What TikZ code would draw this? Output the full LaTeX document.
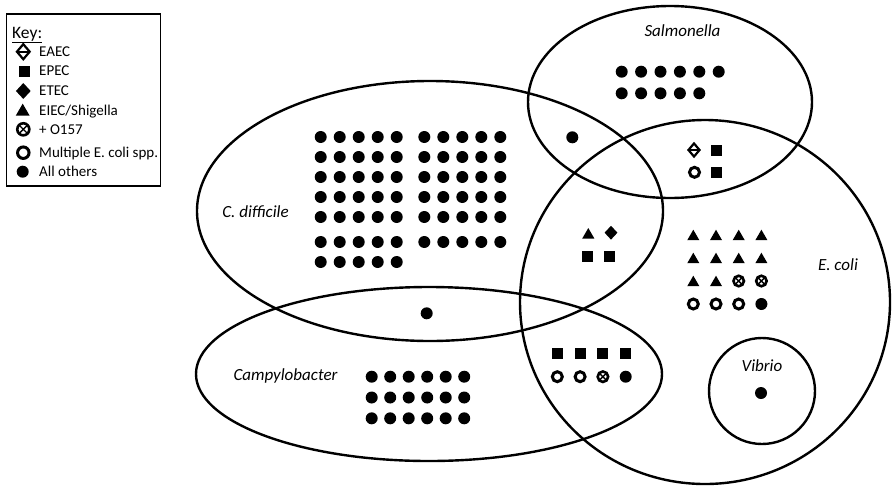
\documentclass[tikz,border=0pt]{standalone}
\usepackage{fontspec}
\setmainfont{Carlito}
\usetikzlibrary{shapes.geometric}
\tikzset{
  venn/.style={line width=2.4pt},
  keybox/.style={line width=1.5pt},
  dotm/.style={circle, fill=black, inner sep=0pt, minimum size=12pt},
  sqm/.style={rectangle, fill=black, inner sep=0pt, minimum size=11pt},
  trim/.style={regular polygon, regular polygon sides=3, fill=black, inner sep=0pt, minimum size=14pt, yshift=-1.7pt},
  diam/.style={diamond, fill=black, inner sep=0pt, minimum width=13pt, minimum height=14pt},
  eaec/.style={diamond, draw=black, line width=2.2pt, inner sep=0pt, minimum width=12pt, minimum height=14pt,
    path picture={\draw[line width=1.8pt] (path picture bounding box.west) -- (path picture bounding box.east);}},
  ocirc/.style={circle, draw=black, line width=3pt, inner sep=0pt, minimum size=10pt},
  otim/.style={circle, draw=black, line width=2.6pt, inner sep=0pt, minimum size=10.5pt,
    path picture={\draw[line width=1.4pt] (path picture bounding box.north west) -- (path picture bounding box.south east)
      (path picture bounding box.north east) -- (path picture bounding box.south west);}},
  lab/.style={font=\fontsize{17}{20}\selectfont\itshape, anchor=base, inner sep=0pt},
  keylab/.style={font=\fontsize{15}{18}\selectfont, anchor=base west, inner sep=0pt},
  keytitle/.style={font=\fontsize{17.5}{20}\selectfont, anchor=base west, inner sep=0pt},
  big/.style={scale=1.15}
}
\begin{document}
\begin{tikzpicture}[x=1pt, y=-1pt]
\useasboundingbox (0,0) rectangle (896,488);

% ---- Key ----
\draw[keybox] (6.5,14) rectangle (160.5,186);
\node[keytitle] (keyt) at (12,38.3) {\underline{Key:}};
\node[eaec, big] (k1) at (23.3,51.7) {};
\node[keylab] (k1t) at (39,56.7) {EAEC};
\node[sqm] (k2) at (24,71) {};
\node[keylab] (k2t) at (39,75.7) {EPEC};
\node[diam, big] (k3) at (23.3,91) {};
\node[keylab] (k3t) at (39,95.7) {ETEC};
\node[trim, big] (k4) at (22.7,110) {};
\node[keylab] (k4t) at (39,115) {EIEC/Shigella};
\node[otim, big] (k5) at (23.3,129.3) {};
\node[keylab] (k5t) at (39,134) {+ O157};
\node[ocirc, big] (k6) at (23.3,152.7) {};
\node[keylab] (k6t) at (39,157.3) {Multiple E. coli spp.};
\node[dotm] (k7) at (22.7,171.7) {};
\node[keylab] (k7t) at (39,176) {All others};

% ---- Sets ----
\draw[venn] (430,211) ellipse [x radius=233pt, y radius=130pt];
\draw[venn] (429,374) ellipse [x radius=233pt, y radius=87pt];
\draw[venn] (670,102) ellipse [x radius=142pt, y radius=96pt];
\draw[venn] (705,302) ellipse [x radius=185pt, y radius=182pt];
\draw[venn] (762,391) circle [radius=53pt];

% ---- Labels ----
\node[lab] (lsal) at (682.5,36.7) {Salmonella};
\node[lab] (lcd) at (255.5,217.5) {C. difficile};
\node[lab] (lcamp) at (285.5,380) {Campylobacter};
\node[lab] (lec) at (838,270) {E. coli};
\node[lab] (lvib) at (762,371.7) {Vibrio};

% ---- C. difficile ----
\foreach \r/\y in {1/137,2/157,3/177,4/197,5/217,6/242,7/262}
  \foreach \c in {0,...,4}
    \node[dotm] (cda-\r-\c) at ({320.7+19*\c},\y) {};
\foreach \r/\y in {1/137,2/157,3/177,4/197,5/217,6/242}
  \foreach \c in {0,...,4}
    \node[dotm] (cdb-\r-\c) at ({424.3+19*\c},\y) {};

% ---- Salmonella ----
\foreach \c in {0,...,5}
  \node[dotm] (sa-\c) at ({621.7+19.4*\c},71.7) {};
\foreach \c in {0,...,4}
  \node[dotm] (sb-\c) at ({621.7+19.4*\c},93.3) {};
\node[dotm] (scd) at (572.3,137.3) {};

% ---- Salmonella & E. coli ----
\node[eaec] (se1) at (694,150) {};
\node[sqm] (se2) at (716,150) {};
\node[ocirc] (se3) at (694.5,172.3) {};
\node[sqm] (se4) at (716,172.3) {};

% ---- C. difficile & E. coli ----
\node[trim] (ce1) at (588.3,233.3) {};
\node[diam] (ce2) at (611,232.7) {};
\node[sqm] (ce3) at (587.5,256.7) {};
\node[sqm] (ce4) at (609.5,256.7) {};

% ---- E. coli ----
\foreach \r/\y in {1/235,2/258}
  \foreach \c in {0,...,3}
    \node[trim] (ec-\r-\c) at ({693.3+22.7*\c},\y) {};
\node[trim] (ec-3-0) at (693.3,281) {};
\node[trim] (ec-3-1) at (716,281) {};
\node[otim] (ec-3-2) at (738.7,281) {};
\node[otim] (ec-3-3) at (761.4,281) {};
\node[ocirc] (ec-4-0) at (693.3,304) {};
\node[ocirc] (ec-4-1) at (716,304) {};
\node[ocirc] (ec-4-2) at (738.7,304) {};
\node[dotm] (ec-4-3) at (761.4,304) {};

% ---- Campylobacter & E. coli ----
\foreach \c in {0,...,3}
  \node[sqm] (cpe-\c) at ({557.3+22.8*\c},353.3) {};
\node[ocirc] (cpe-4) at (557.3,376.7) {};
\node[ocirc] (cpe-5) at (580.1,376.7) {};
\node[otim] (cpe-6) at (602.9,376.7) {};
\node[dotm] (cpe-7) at (625.7,376.7) {};

% ---- C. difficile & Campylobacter ----
\node[dotm] (cdcp) at (426.7,313.3) {};

% ---- Campylobacter ----
\foreach \r/\y in {1/376.7,2/397.5,3/418.3}
  \foreach \c in {0,...,5}
    \node[dotm] (cp-\r-\c) at ({371.7+18.5*\c},\y) {};

% ---- Vibrio ----
\node[dotm] (vb) at (761,393) {};
\end{tikzpicture}
\end{document}
